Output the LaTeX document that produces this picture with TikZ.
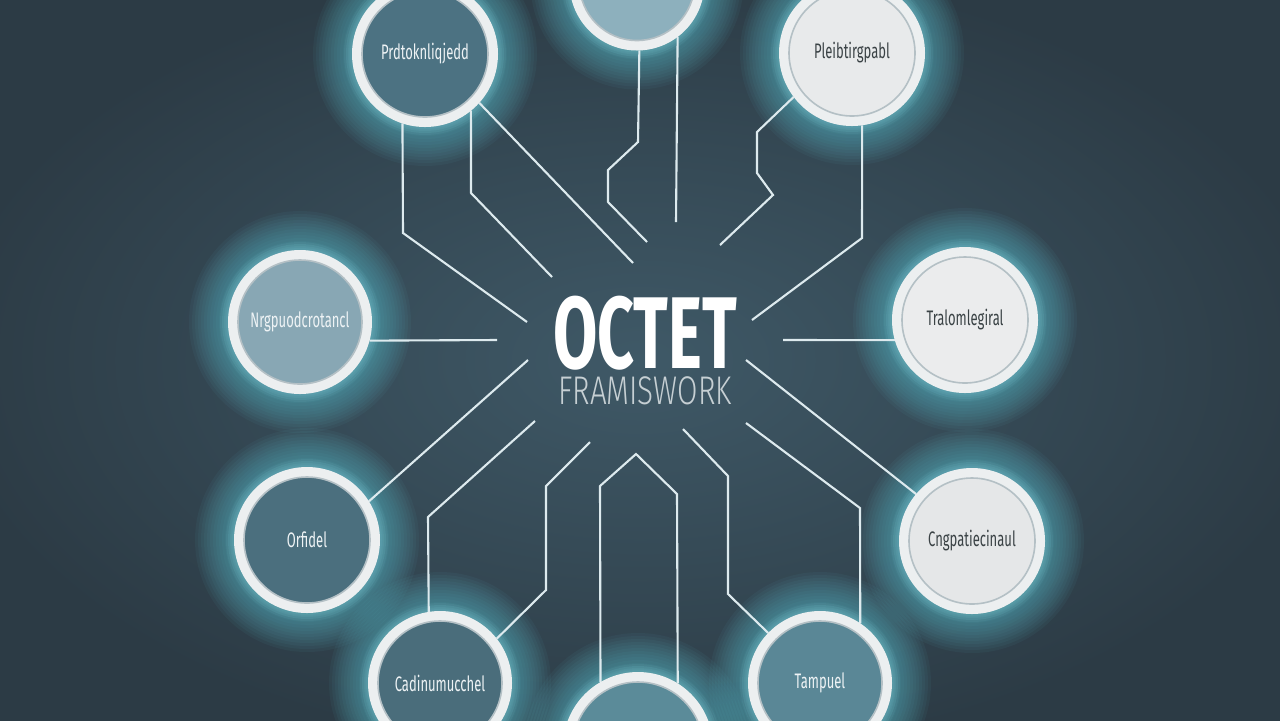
\documentclass[tikz,border=0pt]{standalone}
\usepackage{fontspec}
\newfontfamily\labfont[FakeStretch=0.62]{Fira Sans}
\newfontfamily\titlefont[FakeStretch=0.63]{Fira Sans}
\newfontfamily\subfont[FakeStretch=0.74]{Fira Sans Light}
\definecolor{bgin}{HTML}{3F5967}
\definecolor{bgout}{HTML}{2C3B45}
\definecolor{ringc}{HTML}{ECEFF0}
\definecolor{innerc}{HTML}{B4C0C5}
\definecolor{glowc}{HTML}{62CDDD}
\definecolor{wirec}{HTML}{DDEAEE}
\definecolor{darktxt}{HTML}{3A4245}
\definecolor{lighttxt}{HTML}{EEF3F5}
\definecolor{subtxt}{HTML}{C6CFD3}
\definecolor{ftl}{HTML}{4C7282}
\definecolor{ftc}{HTML}{8DB0BD}
\definecolor{ftr}{HTML}{E8EAEB}
\definecolor{fl}{HTML}{88A7B4}
\definecolor{fr}{HTML}{EBECED}
\definecolor{fll}{HTML}{4B6F7E}
\definecolor{frl}{HTML}{E5E7E8}
\definecolor{fbl}{HTML}{4A6D7B}
\definecolor{fbr}{HTML}{5A8796}
\definecolor{fbc}{HTML}{5B8B99}
\pgfdeclarelayer{bg}
\pgfdeclarelayer{glow}
\pgfdeclarelayer{wires}
\pgfsetlayers{bg,glow,wires,main}
\begin{document}
\begin{tikzpicture}[x=0.5pt,y=-0.5pt,
  ring/.style={circle, draw=ringc, line width=5pt, minimum size=#1, inner sep=0pt,
    font=\labfont\fontsize{10.5}{12}\selectfont},
  darkring/.style={ring=#1, text=lighttxt},
  lightring/.style={ring=#1, text=darktxt},
  wire/.style={draw=wirec, line width=1.05pt, line join=miter}]
\useasboundingbox (0,0) rectangle (1280,720);
\clip (0,0) rectangle (1280,720);
\begin{pgfonlayer}{bg}
\fill[inner color=bgin, outer color=bgout] (-60,-40) rectangle (1340,760);
\end{pgfonlayer}
% circles
\node[darkring=68pt, fill=ftl] (tl) at (425,54) {Prdtoknliqjedd};
\node[darkring=62.5pt, fill=ftc] (tc) at (637,-17) {};
\node[lightring=68pt, fill=ftr] (tr) at (852,53) {Pleibtirgpabl};
\node[darkring=67pt, fill=fl] (l) at (300,322) {Nrgpuodcrotancl};
\node[lightring=68pt, fill=fr] (r) at (965,320) {Tralomlegiral};
\node[darkring=68pt, fill=fll] (ll) at (307,540) {Orfidel};
\node[lightring=68pt, fill=frl] (rl) at (972,541) {Cngpatiecinaul};
\node[darkring=67pt, fill=fbl] (bl) at (440,683) {Cadinumucchel};
\node[darkring=67pt, fill=fbr] (br) at (820,683) {Tampuel};
\node[darkring=70pt, fill=fbc] (bc) at (638,747) {};
% inner edges of rings
\foreach \n/\r in {tl/63,tc/57.5,tr/63,l/62,r/63,ll/63,rl/63,bl/62,br/62,bc/65}
  \draw[innerc, line width=0.8pt] (\n) circle[radius=\r];
% centre title
\node[text=white, inner sep=0pt, align=center, font=\fontsize{20}{18}\selectfont] (title) at (645,350)
  {{\titlefont\bfseries\fontsize{51}{51}\selectfont OCTET}\\{\color{subtxt}\subfont\fontsize{20}{18}\selectfont FRAMISWORK}};
% glow
\begin{pgfonlayer}{glow}
\foreach \n/\r in {tl/73,tc/67.5,tr/73,l/72,r/73,ll/73,rl/73,bl/72,br/72,bc/75}{
  \foreach \k in {1,...,13}
    \fill[glowc, opacity=0.05] (\n) circle[radius=\r+3*\k];
  \foreach \k in {1,...,4}
    \fill[glowc!70!white, opacity=0.08] (\n) circle[radius=\r+2*\k];
}
\end{pgfonlayer}
% free ends
\coordinate (h1) at (527,322);
\coordinate (h2) at (552,277);
\coordinate (h3) at (633,263);
\coordinate (h4) at (647,242);
\coordinate (h5) at (676,222);
\coordinate (h6) at (720,245);
\coordinate (h7) at (752,320);
\coordinate (hl) at (497,340);
\coordinate (hr) at (783,340);
\coordinate (ha) at (528,360);
\coordinate (hb) at (535,421);
\coordinate (hc) at (590,442);
\coordinate (he) at (683,429);
\coordinate (hf) at (746,423);
\coordinate (hg) at (746,360);
\begin{pgfonlayer}{wires}
\draw[wire] (tl.252) -- (403,233) -- (h1);
\draw[wire] (tl.309) -- (471,193) -- (h2);
\draw[wire] (tl.318) -- (h3);
\draw[wire] (tc.272.5) -- (638,142) -- (608,170) -- (608,202) -- (h4);
\draw[wire] (tc.307) -- (h5);
\draw[wire] (tr.217) -- (757,132) -- (757,173) -- (773,195) -- (h6);
\draw[wire] (tr.278) -- (862,238) -- (h7);
\draw[wire] (l.345.5) -- (hl);
\draw[wire] (r.196) -- (hr);
\draw[wire] (ll.32) -- (ha);
\draw[wire] (bl.99.6) -- (428,517) -- (hb);
\draw[wire] (bl.38) -- (546,590) -- (546,486) -- (hc);
\draw[wire] (bc.120.4) -- (600,486) -- (636,454) -- (677,494) -- (bc.58.7);
\draw[wire] (br.136.7) -- (728,594) -- (728,476) -- (he);
\draw[wire] (br.56.3) -- (860,508) -- (hf);
\draw[wire] (rl.140) -- (hg);
\end{pgfonlayer}
\end{tikzpicture}
\end{document}
